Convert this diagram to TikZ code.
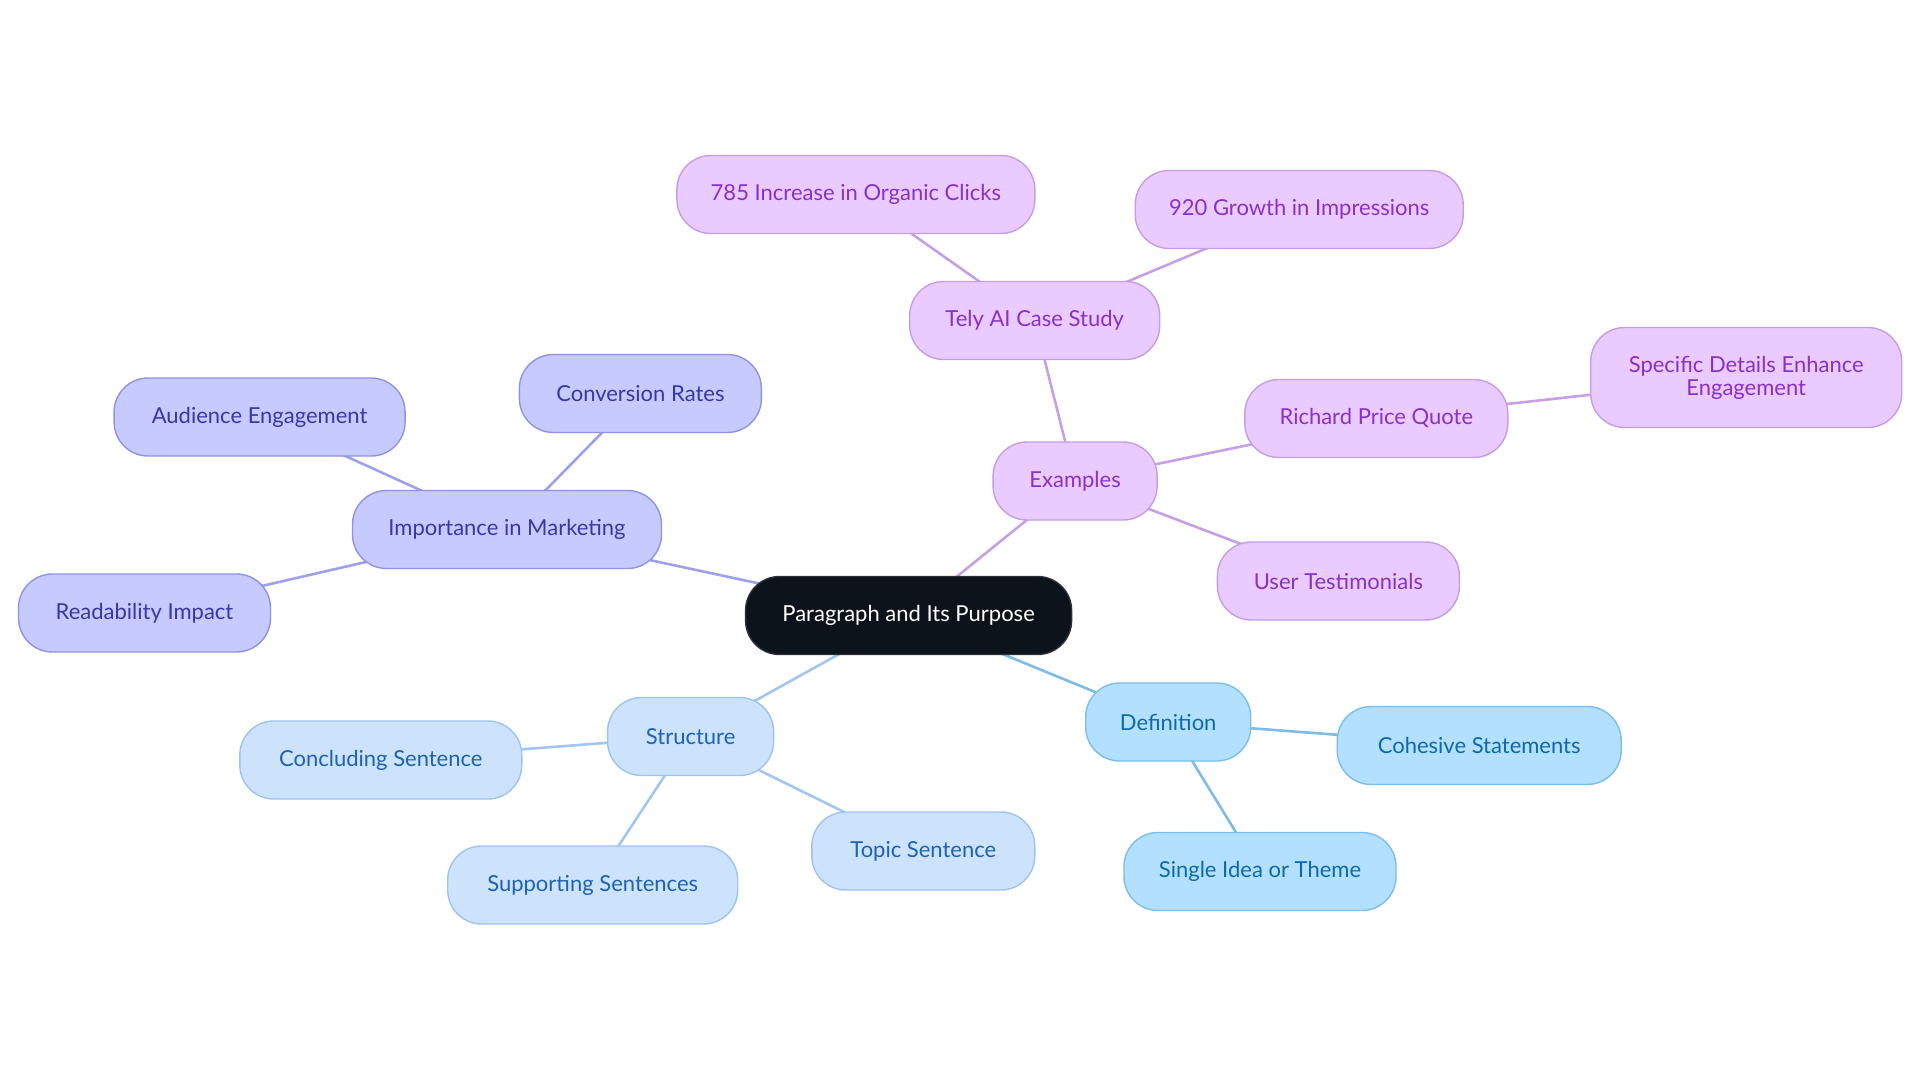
\documentclass[tikz,border=0pt]{standalone}
\usepackage{fontspec}
\setmainfont{Lato}
\usetikzlibrary{backgrounds}
\definecolor{cdark}{HTML}{0D131A}
\definecolor{cdarkb}{HTML}{2B3036}
\definecolor{impF}{HTML}{C7CAFF}
\definecolor{impB}{HTML}{8E93E2}
\definecolor{impT}{HTML}{3A36A8}
\definecolor{impE}{HTML}{9EA1EA}
\definecolor{exF}{HTML}{E9CBFF}
\definecolor{exB}{HTML}{C59CE6}
\definecolor{exT}{HTML}{8B2FC9}
\definecolor{exE}{HTML}{C6A0E6}
\definecolor{stF}{HTML}{CDE3FB}
\definecolor{stB}{HTML}{9CC4EE}
\definecolor{stT}{HTML}{1D62B5}
\definecolor{stE}{HTML}{A3C6EE}
\definecolor{dfF}{HTML}{B3E0FF}
\definecolor{dfB}{HTML}{7BBDEB}
\definecolor{dfT}{HTML}{0B6AAE}
\definecolor{dfE}{HTML}{7DBCE6}
\tikzset{
  box/.style={rectangle, rounded corners=34pt, minimum height=78pt, line width=1.4pt, draw, align=center, inner sep=0pt, font=\fontsize{22}{23}\selectfont},
  rootbox/.style={box, fill=cdark, draw=cdarkb, text=white},
  impbox/.style={box, fill=impF, draw=impB, text=impT},
  exbox/.style={box, fill=exF, draw=exB, text=exT},
  stbox/.style={box, fill=stF, draw=stB, text=stT},
  dfbox/.style={box, fill=dfF, draw=dfB, text=dfT},
  link/.style={line width=2.6pt},
}
\begin{document}
\begin{tikzpicture}[x=1pt,y=-1pt]
\useasboundingbox (0,0) rectangle (1920,1083);
\node[rootbox, minimum width=326pt] (root) at (908.6,615.5) {Paragraph and Its Purpose};
% Importance
\node[impbox, minimum width=309pt] (imp) at (507,529.5) {Importance in Marketing};
\node[impbox, minimum width=291pt] (aud) at (259.6,417) {Audience Engagement};
\node[impbox, minimum width=242pt] (conv) at (640.4,393.5) {Conversion Rates};
\node[impbox, minimum width=252pt] (read) at (144.5,613) {Readability Impact};
% Structure
\node[stbox, minimum width=166pt] (str) at (690.6,736.5) {Structure};
\node[stbox, minimum width=282pt] (conc) at (380.8,760) {Concluding Sentence};
\node[stbox, minimum width=290pt] (supp) at (592.7,885) {Supporting Sentences};
\node[stbox, minimum width=223pt] (topic) at (923.3,851) {Topic Sentence};
% Definition
\node[dfbox, minimum width=165pt] (def) at (1168.2,722) {Definition};
\node[dfbox, minimum width=284pt] (coh) at (1479.2,745.5) {Cohesive Statements};
\node[dfbox, minimum width=272pt] (single) at (1260,871.5) {Single Idea or Theme};
% Examples
\node[exbox, minimum width=164pt] (ex) at (1075.1,481) {Examples};
\node[exbox, minimum width=250pt] (tely) at (1034.7,320.5) {Tely AI Case Study};
\node[exbox, minimum width=358pt] (clicks) at (855.9,194.5) {785 Increase in Organic Clicks};
\node[exbox, minimum width=328pt] (impr) at (1299.2,209.5) {920 Growth in Impressions};
\node[exbox, minimum width=263pt] (rich) at (1376.3,418.5) {Richard Price Quote};
\node[exbox, minimum width=311pt, minimum height=100pt] (spec) at (1746.2,377.5) {Specific Details Enhance\\Engagement};
\node[exbox, minimum width=242pt] (user) at (1338.4,581) {User Testimonials};
\begin{scope}[on background layer]
\draw[link, impE] (root.center) -- (imp.center);
\draw[link, impE] (imp.center) -- (aud.center);
\draw[link, impE] (imp.center) -- (conv.center);
\draw[link, impE] (imp.center) -- (read.center);
\draw[link, stE] (root.center) -- (str.center);
\draw[link, stE] (str.center) -- (conc.center);
\draw[link, stE] (str.center) -- (supp.center);
\draw[link, stE] (str.center) -- (topic.center);
\draw[link, dfE] (root.center) -- (def.center);
\draw[link, dfE] (def.center) -- (coh.center);
\draw[link, dfE] (def.center) -- (single.center);
\draw[link, exE] (root.center) -- (ex.center);
\draw[link, exE] (ex.center) -- (tely.center);
\draw[link, exE] (tely.center) -- (clicks.center);
\draw[link, exE] (tely.center) -- (impr.center);
\draw[link, exE] (ex.center) -- (rich.center);
\draw[link, exE] (rich.center) -- (spec.center);
\draw[link, exE] (ex.center) -- (user.center);
\end{scope}
\end{tikzpicture}
\end{document}
